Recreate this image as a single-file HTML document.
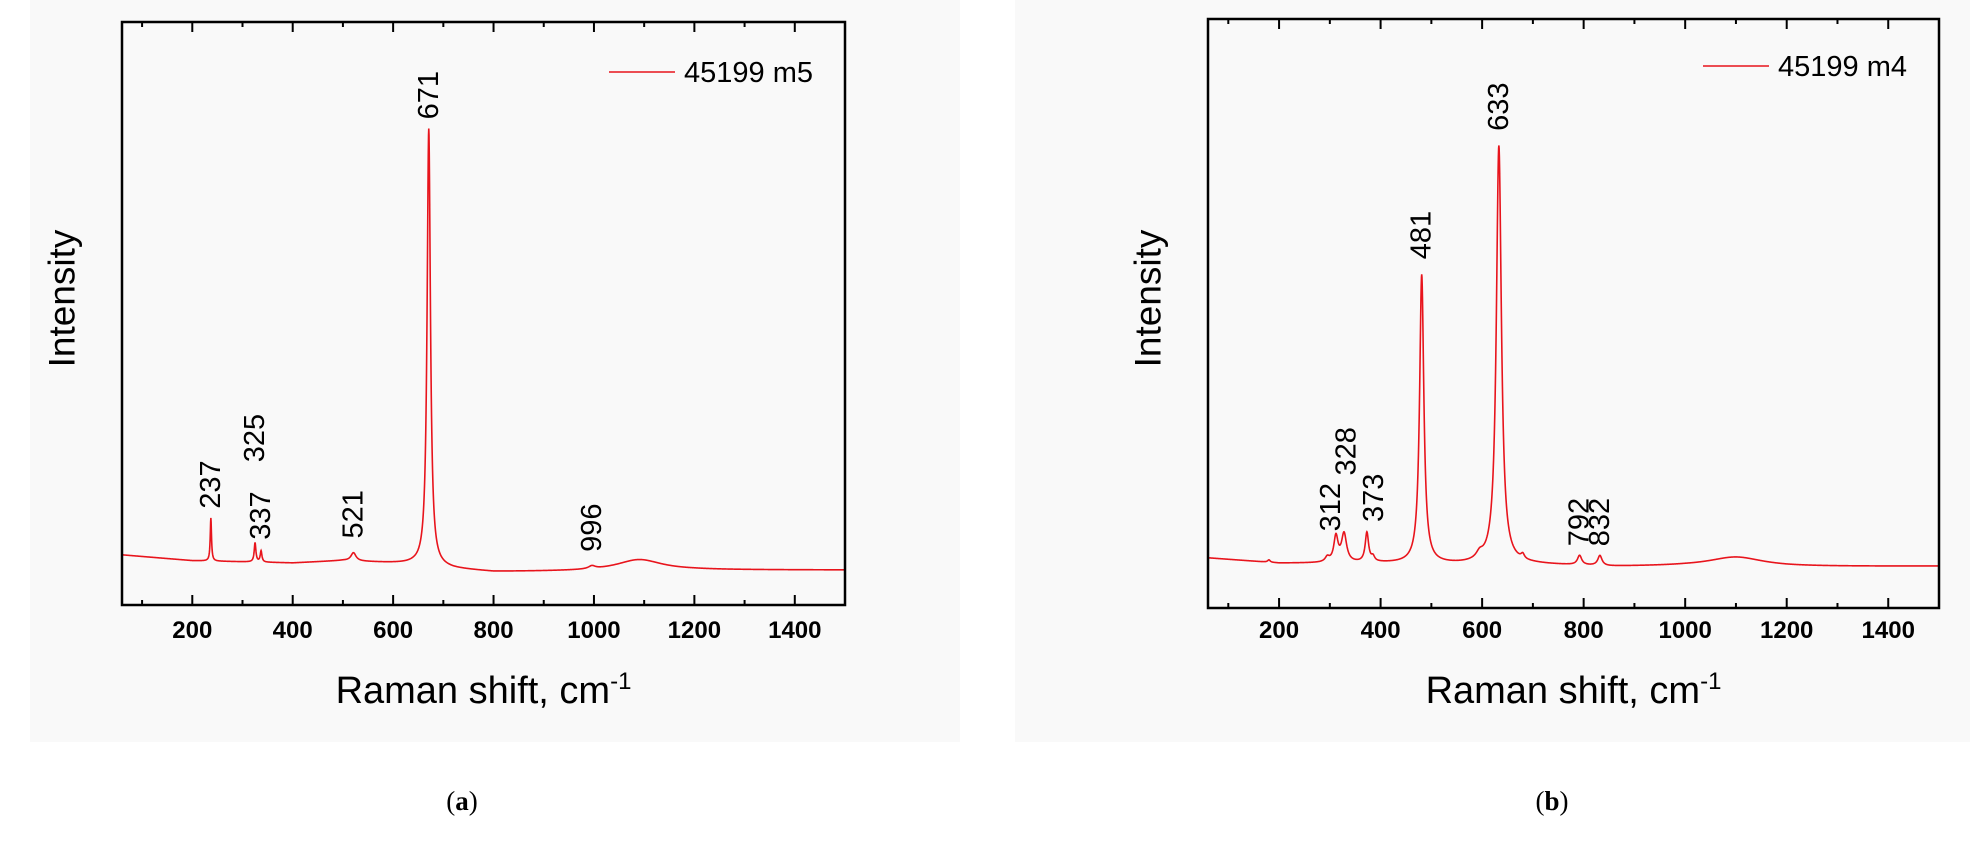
<!DOCTYPE html>
<html><head><meta charset="utf-8">
<style>
html,body{margin:0;padding:0;background:#fff;}
svg{display:block;}
text{font-family:"Liberation Sans",Arial,sans-serif;fill:#000;}
</style></head>
<body>
<svg id="fig" width="1970" height="848" viewBox="0 0 1970 848">
<rect x="30" y="0" width="930" height="742" fill="#f9f9f9"/>
<rect x="1015" y="0" width="955" height="742" fill="#f9f9f9"/>
<g id="pa"></g>
<g id="pb"></g>
<text x="462" y="810" text-anchor="middle" style="font-family:'Liberation Serif',serif" font-size="27">(<tspan font-weight="bold">a</tspan>)</text>
<text x="1552" y="810" text-anchor="middle" style="font-family:'Liberation Serif',serif" font-size="27">(<tspan font-weight="bold">b</tspan>)</text>
</svg>
<script>
// ---- Panel A data ----
const aPeakPos = [237, 325, 337, 521, 671, 996, 1090];
const aPeakHeight = [7.4, 3.3, 1.9, 1.4, 75, 0.5, 1.9];
const aPeakWidth = [1.5, 2, 2, 6, 4, 8, 55];
const aBaseX = [60, 200, 400, 500, 640, 720, 800, 1000, 1200, 1500];
const aBaseY = [8.6, 7.6, 7.2, 7.6, 7.0, 6.2, 5.7, 5.8, 6.0, 6.0];
const aLabels = ["237", "325", "337", "521", "671", "996"];
const aLabelPos = [237, 325, 337, 521, 671, 996];
const aLabelLevel = [16.5, 24.5, 11.2, 11.4, 83.3, 9.1];
// ---- Panel B data ----
const bPeakPos = [180, 295, 312, 328, 373, 385, 481, 595, 633, 680, 792, 832, 1100];
const bPeakHeight = [0.4, 0.8, 4.3, 4.8, 5.0, 0.8, 49, 1.0, 71, 0.8, 1.6, 1.7, 1.6];
const bPeakWidth = [3, 5, 5, 6, 4, 4, 5, 8, 6, 4, 5, 5, 65];
const bBaseX = [60, 200, 400, 550, 700, 850, 1000, 1200, 1500];
const bBaseY = [8.5, 7.6, 7.6, 7.4, 7.4, 7.0, 7.1, 7.0, 7.1];
const bLabels = ["312", "328", "373", "481", "633", "792", "832"];
const bLabelPos = [302, 333, 387, 481, 633, 792, 832];
const bLabelLevel = [13, 22.5, 14.6, 59.2, 81, 10.5, 10.5];
const xTicks = [200, 400, 600, 800, 1000, 1200, 1400];
const xMinorTicks = [100, 300, 500, 700, 900, 1100, 1300, 1500];

const NS = "http://www.w3.org/2000/svg";
function mk(tag, attrs, parent){const e=document.createElementNS(NS,tag);for(const k in attrs)e.setAttribute(k,attrs[k]);parent.appendChild(e);return e;}
function interp(xs, ys, x){if(x<=xs[0])return ys[0];for(let i=1;i<xs.length;i++){if(x<=xs[i]){const t=(x-xs[i-1])/(xs[i]-xs[i-1]);return ys[i-1]+t*(ys[i]-ys[i-1]);}}return ys[ys.length-1];}

function panel(g, cfg){
  const L=cfg.L,R=cfg.R,T=cfg.T,B=cfg.B;
  const xs=v=>L+(v-60)*(R-L)/(1500-60);
  const ys=v=>B-v*(B-T)/100;
  let d="";
  for(let x=60;x<=1500;x+=0.5){
    let y=interp(cfg.bx,cfg.by,x);
    for(let i=0;i<cfg.pp.length;i++){const w=cfg.pw[i];const dx=x-cfg.pp[i];y+=cfg.ph[i]*w*w/(dx*dx+w*w);}
    d+=(d?"L":"M")+xs(x).toFixed(2)+" "+ys(y).toFixed(2);
  }
  const p=mk("path",{d:d,fill:"none",stroke:"#e8141c","stroke-width":"1.6"},g);
  
  
  const f=mk("rect",{x:L,y:T,width:R-L,height:B-T,fill:"none",stroke:"#000","stroke-width":"2.5"},g);
  
  
  xTicks.forEach(t=>{
    const x=xs(t);
    const a=mk("line",{x1:x,x2:x,y1:B,y2:B-10,stroke:"#000","stroke-width":"2"},g);
    
    
    const b=mk("line",{x1:x,x2:x,y1:T,y2:T+10,stroke:"#000","stroke-width":"2"},g);
    
    
    const tl=mk("text",{x:x,y:638,"text-anchor":"middle","font-size":"24","font-weight":"bold"},g);
    tl.textContent=t;
    
    
  });
  xMinorTicks.forEach(t=>{
    if(t<=60||t>=1500)return;
    const x=xs(t);
    const a=mk("line",{x1:x,x2:x,y1:B,y2:B-5,stroke:"#000","stroke-width":"2"},g);
    
    
    const b=mk("line",{x1:x,x2:x,y1:T,y2:T+5,stroke:"#000","stroke-width":"2"},g);
    
    
  });
  for(let i=0;i<cfg.lt.length;i++){
    const x=xs(cfg.lp[i]),y=ys(cfg.ll[i]);
    const t=mk("text",{x:0,y:0,transform:`translate(${x.toFixed(1)},${y.toFixed(1)}) rotate(-90)`,"font-size":"29","dominant-baseline":"central"},g);
    t.textContent=cfg.lt[i];
    
    
  }
  const ll=mk("line",{x1:R-236,x2:R-170,y1:cfg.legY,y2:cfg.legY,stroke:"#e8141c","stroke-width":"1.6"},g);
  
  
  const lt=mk("text",{x:R-161,y:cfg.legY+10,"font-size":"29"},g);
  lt.textContent=cfg.leg;
  
  
  const xt=mk("text",{x:(L+R)/2,y:703,"text-anchor":"middle","font-size":"38"},g);
  xt.innerHTML='Raman shift, cm<tspan dy="-14" font-size="24">-1</tspan>';
  
  
  const yt=mk("text",{x:0,y:0,transform:`translate(${L-60},${(T+B)/2-15}) rotate(-90)`,"text-anchor":"middle","font-size":"37","dominant-baseline":"central"},g);
  yt.textContent="Intensity";
  
  
}
panel(document.getElementById("pa"),{L:122,R:845,T:22,B:605,pp:aPeakPos,ph:aPeakHeight,pw:aPeakWidth,bx:aBaseX,by:aBaseY,lt:aLabels,lp:aLabelPos,ll:aLabelLevel,leg:"45199 m5",legY:72});
panel(document.getElementById("pb"),{L:1208,R:1939,T:19,B:608,pp:bPeakPos,ph:bPeakHeight,pw:bPeakWidth,bx:bBaseX,by:bBaseY,lt:bLabels,lp:bLabelPos,ll:bLabelLevel,leg:"45199 m4",legY:66});
</script>
</body></html>
